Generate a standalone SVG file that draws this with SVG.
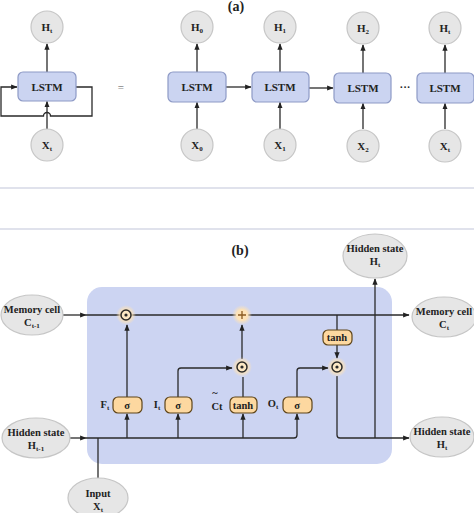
<svg xmlns="http://www.w3.org/2000/svg" width="474" height="513" viewBox="0 0 474 513">
<defs>
<marker id="ah" viewBox="0 0 10 10" refX="9" refY="5" markerWidth="5" markerHeight="5" orient="auto"><path d="M0,1 L10,5 L0,9 z" fill="#222"/></marker>
<radialGradient id="glow"><stop offset="0.5" stop-color="#fde3b8"/><stop offset="1" stop-color="#fde3b8" stop-opacity="0"/></radialGradient>
</defs>
<style>
text{font-family:"Liberation Serif","Times New Roman",serif;font-weight:bold;fill:#222;text-anchor:middle}
.circ{fill:#e6e6e6;stroke:#c6c6c6;stroke-width:1.2}
.lstm{fill:#cbd4f1;stroke:#8e9ac6;stroke-width:1.2}
.gate{fill:#fdd8a0;stroke:#5e4418;stroke-width:1.2}
.ln{fill:none;stroke:#2a2a2a;stroke-width:1.3}
.sep{stroke:#d6d8e6;stroke-width:1.5}
.t{font-size:11px}
.s{font-size:7px}
.g{font-size:10.5px}
</style>

<!-- (a) -->
<text x="236" y="11" font-size="14">(a)</text>
<line class="sep" x1="0" y1="188" x2="474" y2="188"/>
<line class="sep" x1="0" y1="229" x2="474" y2="229"/>

<g id="connectors-a">
<line class="ln" x1="47" y1="72" x2="47" y2="44" marker-end="url(#ah)"/>
<line class="ln" x1="47" y1="129" x2="47" y2="101.5" marker-end="url(#ah)"/>
<path class="ln" d="M76,87 H92 V116 H50.5 A3.5,3.5 0 0 0 43.5,116 H1 V87 H17" marker-end="url(#ah)"/>
<line class="ln" x1="197" y1="72" x2="197" y2="44" marker-end="url(#ah)"/>
<line class="ln" x1="280" y1="72" x2="280" y2="44" marker-end="url(#ah)"/>
<line class="ln" x1="363" y1="73" x2="363" y2="45" marker-end="url(#ah)"/>
<line class="ln" x1="445" y1="73" x2="445" y2="45" marker-end="url(#ah)"/>
<line class="ln" x1="197" y1="129" x2="197" y2="102.5" marker-end="url(#ah)"/>
<line class="ln" x1="280" y1="129" x2="280" y2="102.5" marker-end="url(#ah)"/>
<line class="ln" x1="363" y1="129" x2="363" y2="103.5" marker-end="url(#ah)"/>
<line class="ln" x1="445" y1="129" x2="445" y2="103.5" marker-end="url(#ah)"/>
<line class="ln" x1="226" y1="87" x2="251" y2="87" marker-end="url(#ah)"/>
<line class="ln" x1="309" y1="88" x2="333" y2="88" marker-end="url(#ah)"/>
</g>

<g id="a-Ht"><circle class="circ" cx="47" cy="27" r="16"/><text x="47" y="31" class="t">H<tspan class="s" dy="2">t</tspan></text></g>
<g id="a-lstm"><rect class="lstm" x="18" y="72" width="58" height="29" rx="5"/><text x="47" y="91" class="t">LSTM</text></g>
<g id="a-Xt"><circle class="circ" cx="47" cy="145" r="16"/><text x="47" y="149" class="t">X<tspan class="s" dy="2">t</tspan></text></g>
<text x="121" y="91" font-size="11" style="fill:#888">=</text>

<g id="a-H0"><circle class="circ" cx="197" cy="27" r="16"/><text x="197" y="31" class="t">H<tspan class="s" dy="2">0</tspan></text></g>
<g id="a-H1"><circle class="circ" cx="280" cy="27" r="16"/><text x="280" y="31" class="t">H<tspan class="s" dy="2">1</tspan></text></g>
<g id="a-H2"><circle class="circ" cx="363" cy="28" r="16"/><text x="363" y="32" class="t">H<tspan class="s" dy="2">2</tspan></text></g>
<g id="a-Ht2"><circle class="circ" cx="445" cy="28" r="16"/><text x="445" y="32" class="t">H<tspan class="s" dy="2">t</tspan></text></g>
<g id="a-L0"><rect class="lstm" x="168" y="72" width="58" height="30" rx="5"/><text x="197" y="91" class="t">LSTM</text></g>
<g id="a-L1"><rect class="lstm" x="252" y="72" width="57" height="30" rx="5"/><text x="280" y="91" class="t">LSTM</text></g>
<g id="a-L2"><rect class="lstm" x="334" y="73" width="57" height="30" rx="5"/><text x="363" y="92" class="t">LSTM</text></g>
<g id="a-Lt"><rect class="lstm" x="417" y="73" width="57" height="30" rx="5"/><text x="445" y="92" class="t">LSTM</text></g>
<text x="405" y="91" class="t">···</text>
<g id="a-X0"><circle class="circ" cx="197" cy="145" r="16"/><text x="197" y="149" class="t">X<tspan class="s" dy="2">0</tspan></text></g>
<g id="a-X1"><circle class="circ" cx="280" cy="145" r="16"/><text x="280" y="149" class="t">X<tspan class="s" dy="2">1</tspan></text></g>
<g id="a-X2"><circle class="circ" cx="363" cy="146" r="16"/><text x="363" y="150" class="t">X<tspan class="s" dy="2">2</tspan></text></g>
<g id="a-Xt2"><circle class="circ" cx="445" cy="146" r="16"/><text x="445" y="150" class="t">X<tspan class="s" dy="2">t</tspan></text></g>

<!-- (b) -->
<text x="240" y="255" font-size="14">(b)</text>
<rect x="87" y="287" width="305" height="177" rx="15" fill="#ccd4f2"/>

<g id="connectors-b">
<line class="ln" x1="63" y1="315" x2="86" y2="315" marker-end="url(#ah)"/>
<line class="ln" x1="86" y1="315" x2="409" y2="315" marker-end="url(#ah)"/>
<line class="ln" x1="69" y1="438" x2="86" y2="438" marker-end="url(#ah)"/>
<path class="ln" d="M86,438 H294 Q297,438 297,435 V414" marker-end="url(#ah)"/>
<line class="ln" x1="98" y1="478" x2="98" y2="438"/>
<line class="ln" x1="127" y1="438" x2="127" y2="414" marker-end="url(#ah)"/>
<line class="ln" x1="127" y1="397" x2="127" y2="325" marker-end="url(#ah)"/>
<line class="ln" x1="178" y1="438" x2="178" y2="414" marker-end="url(#ah)"/>
<path class="ln" d="M178,397 V371 Q178,368 181,368 H232" marker-end="url(#ah)"/>
<line class="ln" x1="243" y1="438" x2="243" y2="414" marker-end="url(#ah)"/>
<line class="ln" x1="243" y1="397" x2="243" y2="377"/>
<line class="ln" x1="242" y1="359" x2="242" y2="325" marker-end="url(#ah)"/>
<path class="ln" d="M297,397 V371 Q297,368 300,368 H328" marker-end="url(#ah)"/>
<line class="ln" x1="337" y1="315" x2="337" y2="330"/>
<line class="ln" x1="337" y1="345" x2="337" y2="358" marker-end="url(#ah)"/>
<path class="ln" d="M337,376 V435 Q337,438 340,438 H409" marker-end="url(#ah)"/>
<line class="ln" x1="375" y1="438" x2="375" y2="279" marker-end="url(#ah)"/>
</g>

<g id="op-f"><circle cx="126" cy="315" r="10" fill="url(#glow)"/><circle cx="126" cy="315" r="5" fill="#fde8c4" stroke="#2a2a2a" stroke-width="1.5"/><circle cx="126" cy="315" r="1.6" fill="#2a2a2a"/></g>
<g id="op-plus"><circle cx="242" cy="315" r="10" fill="url(#glow)"/><circle cx="242" cy="315" r="6" fill="#fde3b8"/><path d="M238,315 H246 M242,311 V319" stroke="#8a5a20" stroke-width="1.3"/></g>
<g id="op-i"><circle cx="242" cy="367" r="10" fill="url(#glow)"/><circle cx="242" cy="367" r="5" fill="#fde8c4" stroke="#2a2a2a" stroke-width="1.5"/><circle cx="242" cy="367" r="1.6" fill="#2a2a2a"/></g>
<g id="op-o"><circle cx="337" cy="367" r="10" fill="url(#glow)"/><circle cx="337" cy="367" r="5" fill="#fde8c4" stroke="#2a2a2a" stroke-width="1.5"/><circle cx="337" cy="367" r="1.6" fill="#2a2a2a"/></g>

<g id="gate-f"><rect class="gate" x="113" y="397" width="29" height="16" rx="5"/><text x="127" y="409" class="g">σ</text><text x="105" y="408" class="g">F<tspan class="s" dy="2">t</tspan></text></g>
<g id="gate-i"><rect class="gate" x="165" y="397" width="27" height="16" rx="5"/><text x="178" y="409" class="g">σ</text><text x="157" y="408" class="g">I<tspan class="s" dy="2">t</tspan></text></g>
<g id="gate-c"><rect class="gate" x="230" y="397" width="27" height="16" rx="5"/><text x="243" y="409" class="g" font-size="9">tanh</text><text x="217" y="410" class="g">Ct</text><text x="215" y="396" class="g" font-size="7">~</text></g>
<g id="gate-o"><rect class="gate" x="283" y="397" width="29" height="16" rx="5"/><text x="297" y="409" class="g">σ</text><text x="273" y="407" class="g">O<tspan class="s" dy="2">t</tspan></text></g>
<g id="tanh-out"><rect class="gate" x="323" y="330" width="29" height="15" rx="5"/><text x="337" y="341" class="g" font-size="9">tanh</text></g>

<g id="mem-in"><ellipse class="circ" cx="32" cy="315" rx="31" ry="20"/><text x="32" y="313" class="g">Memory cell</text><text x="32" y="326" class="g">C<tspan class="s" dy="2">t-1</tspan></text></g>
<g id="mem-out"><ellipse class="circ" cx="444" cy="317" rx="32" ry="20"/><text x="444" y="315" class="g">Memory cell</text><text x="444" y="328" class="g">C<tspan class="s" dy="2">t</tspan></text></g>
<g id="hid-top"><ellipse class="circ" cx="375" cy="256" rx="32" ry="22"/><text x="375" y="252" class="g">Hidden state</text><text x="375" y="265" class="g">H<tspan class="s" dy="2">t</tspan></text></g>
<g id="hid-in"><ellipse class="circ" cx="36" cy="438" rx="34" ry="20"/><text x="36" y="436" class="g">Hidden state</text><text x="36" y="449" class="g">H<tspan class="s" dy="2">t-1</tspan></text></g>
<g id="hid-out"><ellipse class="circ" cx="442" cy="437" rx="32" ry="20"/><text x="442" y="435" class="g">Hidden state</text><text x="442" y="448" class="g">H<tspan class="s" dy="2">t</tspan></text></g>
<g id="input"><ellipse class="circ" cx="98" cy="498" rx="30" ry="20"/><text x="98" y="497" class="g">Input</text><text x="98" y="510" class="g">X<tspan class="s" dy="2">t</tspan></text></g>
</svg>
